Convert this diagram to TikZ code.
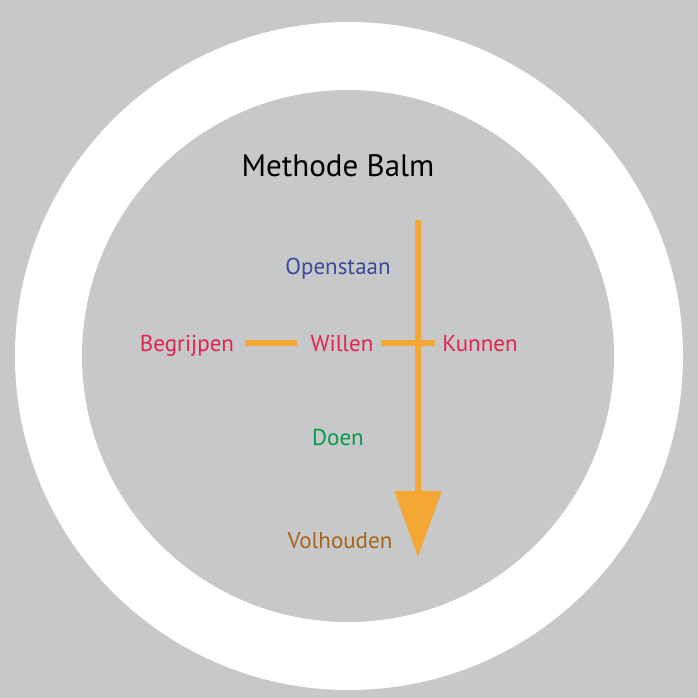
\documentclass[tikz,border=0pt]{standalone}
\usepackage{fontspec}
\setmainfont{PT Sans}
\usetikzlibrary{arrows.meta}
\definecolor{bg}{HTML}{C6C8C9}
\definecolor{org}{HTML}{F5A733}
\definecolor{rd}{HTML}{E5234F}
\definecolor{bl}{HTML}{3B4A9A}
\definecolor{gr}{HTML}{0A9A4B}
\definecolor{br}{HTML}{A8641A}
\begin{document}
\begin{tikzpicture}[x=1pt,y=-1pt,
  lbl/.style={font=\fontsize{23}{25}\selectfont, inner sep=1pt, anchor=base},
  conn/.style={draw=org, line width=6pt}]
\fill[bg] (0,0) rectangle (698,698);
\fill[white] (349,356) circle (334);
\fill[bg] (348,356) circle (266);
\node[font=\fontsize{31}{33}\selectfont, anchor=base] (title) at (338,176) {Methode Balm};
\node[lbl,text=bl] (open) at (338,274) {Openstaan};
\node[lbl,text=rd] (beg) at (187,351) {Begrijpen};
\node[lbl,text=rd] (wil) at (342,351) {Willen};
\node[lbl,text=rd] (kun) at (480,351) {Kunnen};
\node[lbl,text=gr] (doen) at (338,445) {Doen};
\node[lbl,text=br] (vol) at (340,548) {Volhouden};
\coordinate (as) at (418,220);
\coordinate (ae) at (418,557);
\draw[conn] (245,343) -- ([xshift=-12pt]wil.west |- 0,343);
\draw[conn] ([xshift=6pt]wil.east |- 0,343) -- (435,343);
\draw[conn, -{Triangle[width=46pt,length=66pt]}] (as) -- (ae);
\end{tikzpicture}
\end{document}
